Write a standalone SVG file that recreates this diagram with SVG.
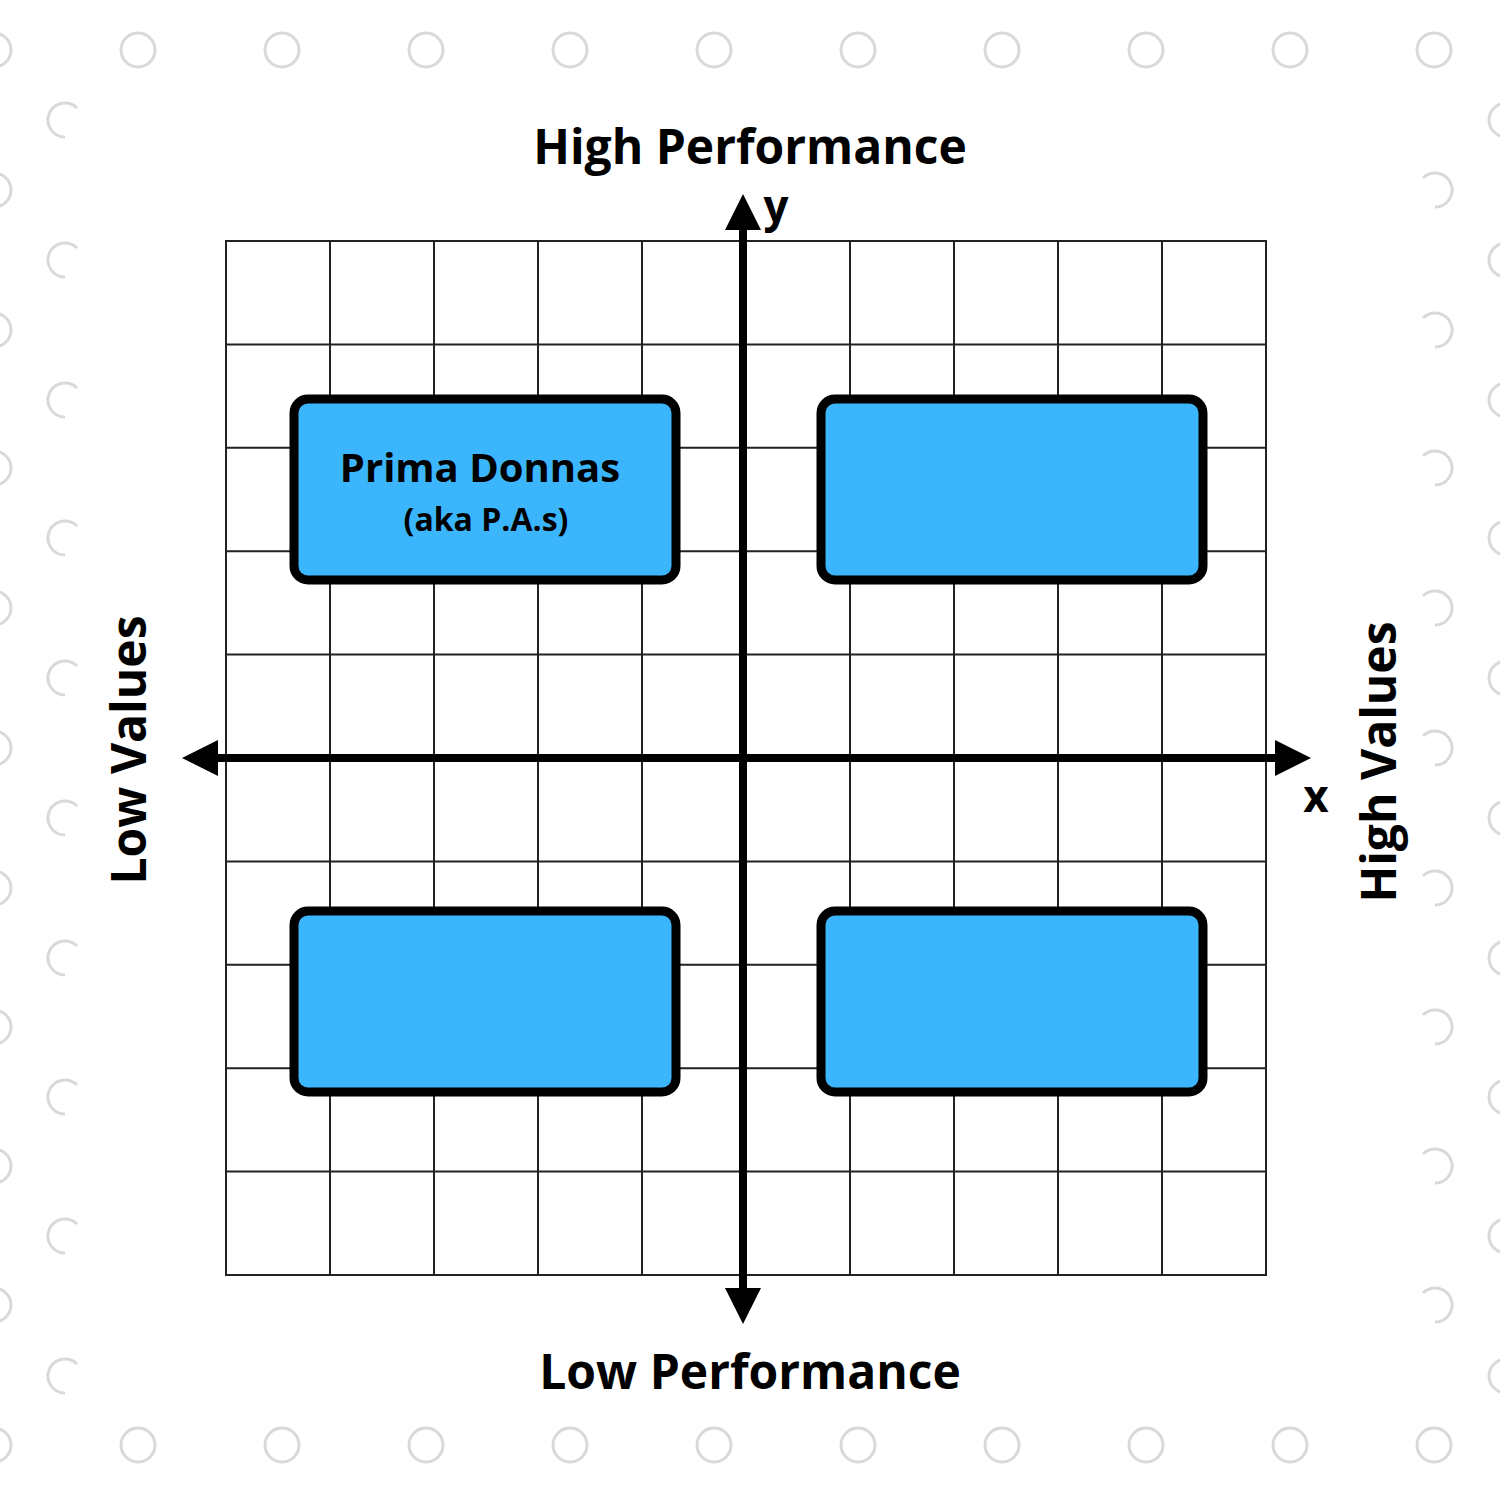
<svg xmlns="http://www.w3.org/2000/svg" width="1500" height="1500" viewBox="0 0 1500 1500">
<style>
.c{fill:none;stroke:#d9d9d9;stroke-width:3}
.g{stroke:#222;stroke-width:2;fill:none}
.ax{stroke:#000;stroke-width:8}
.box{fill:#3BB5FC;stroke:#000;stroke-width:9}
.t{font-family:"Open Sans",sans-serif;font-weight:bold;fill:#000}
</style>
<defs>
<marker id="ah" viewBox="0 0 10 10" refX="5" refY="5" markerWidth="4.5" markerHeight="4.5" orient="auto" markerUnits="strokeWidth"><path d="M0,0L10,5L0,10z" fill="#000"/></marker>
<circle id="o" r="17" class="c"/>
<path id="la" d="M12,-12 A17,17 0 1 0 0,17" class="c"/>
<path id="ra" d="M-12,-12 A17,17 0 1 1 0,17" class="c"/>
</defs>
<rect width="1500" height="1500" fill="#fff"/>
<g id="bg">
<use href="#o" x="-6" y="50"/><use href="#o" x="138" y="50"/><use href="#o" x="282" y="50"/><use href="#o" x="426" y="50"/><use href="#o" x="570" y="50"/><use href="#o" x="714" y="50"/><use href="#o" x="858" y="50"/><use href="#o" x="1002" y="50"/><use href="#o" x="1146" y="50"/><use href="#o" x="1290" y="50"/><use href="#o" x="1434" y="50"/>
<use href="#o" x="-6" y="1445"/><use href="#o" x="138" y="1445"/><use href="#o" x="282" y="1445"/><use href="#o" x="426" y="1445"/><use href="#o" x="570" y="1445"/><use href="#o" x="714" y="1445"/><use href="#o" x="858" y="1445"/><use href="#o" x="1002" y="1445"/><use href="#o" x="1146" y="1445"/><use href="#o" x="1290" y="1445"/><use href="#o" x="1434" y="1445"/>
<use href="#o" x="-6" y="190"/><use href="#o" x="-6" y="330"/><use href="#o" x="-6" y="468"/><use href="#o" x="-6" y="608"/><use href="#o" x="-6" y="748"/><use href="#o" x="-6" y="888"/><use href="#o" x="-6" y="1027"/><use href="#o" x="-6" y="1166"/><use href="#o" x="-6" y="1305"/>
<use href="#la" x="65" y="120"/><use href="#la" x="65" y="260"/><use href="#la" x="65" y="400"/><use href="#la" x="65" y="538"/><use href="#la" x="65" y="678"/><use href="#la" x="65" y="818"/><use href="#la" x="65" y="958"/><use href="#la" x="65" y="1097"/><use href="#la" x="65" y="1236"/><use href="#la" x="65" y="1376"/>
<use href="#ra" x="1435" y="190"/><use href="#ra" x="1435" y="330"/><use href="#ra" x="1435" y="468"/><use href="#ra" x="1435" y="608"/><use href="#ra" x="1435" y="748"/><use href="#ra" x="1435" y="888"/><use href="#ra" x="1435" y="1027"/><use href="#ra" x="1435" y="1166"/><use href="#ra" x="1435" y="1305"/>
<use href="#o" x="1506" y="120"/><use href="#o" x="1506" y="260"/><use href="#o" x="1506" y="400"/><use href="#o" x="1506" y="538"/><use href="#o" x="1506" y="678"/><use href="#o" x="1506" y="818"/><use href="#o" x="1506" y="958"/><use href="#o" x="1506" y="1097"/><use href="#o" x="1506" y="1236"/><use href="#o" x="1506" y="1376"/>
</g>
<g id="grid" class="g">
<rect x="226" y="241" width="1040" height="1034"/>
<path d="M330,241V1275M434,241V1275M538,241V1275M642,241V1275M746,241V1275M850,241V1275M954,241V1275M1058,241V1275M1162,241V1275"/>
<path d="M226,344.4H1266M226,447.8H1266M226,551.2H1266M226,654.6H1266M226,758H1266M226,861.4H1266M226,964.8H1266M226,1068.2H1266M226,1171.6H1266"/>
</g>
<g id="connectors">
<line class="ax" x1="743" y1="1300" x2="743" y2="212" marker-end="url(#ah)"/>
<line class="ax" x1="743" y1="700" x2="743" y2="1306" marker-end="url(#ah)"/>
<line class="ax" x1="210" y1="758" x2="1293" y2="758" marker-end="url(#ah)"/>
<line class="ax" x1="800" y1="758" x2="200" y2="758" marker-end="url(#ah)"/>
</g>
<g id="n1"><rect class="box" x="294" y="399" width="382" height="181" rx="14"/>
<text class="t" x="480" y="482" font-size="40" text-anchor="middle">Prima Donnas</text>
<text class="t" x="486" y="531" font-size="32" text-anchor="middle">(aka P.A.s)</text></g>
<g id="n2"><rect class="box" x="821" y="399" width="382" height="181" rx="14"/></g>
<g id="n3"><rect class="box" x="294" y="911" width="382" height="181" rx="14"/></g>
<g id="n4"><rect class="box" x="821" y="911" width="382" height="181" rx="14"/></g>
<g id="labels">
<text class="t" x="750" y="164" font-size="48" text-anchor="middle">High Performance</text>
<text class="t" x="750" y="1389" font-size="48" text-anchor="middle">Low Performance</text>
<text class="t" font-size="48" text-anchor="middle" transform="translate(146,750) rotate(-90)">Low Values</text>
<text class="t" font-size="48" text-anchor="middle" transform="translate(1396,762) rotate(-90)">High Values</text>
<text class="t" x="776" y="222" font-size="44" text-anchor="middle">y</text>
<text class="t" x="1316" y="812" font-size="44" text-anchor="middle">x</text>
</g>
</svg>
